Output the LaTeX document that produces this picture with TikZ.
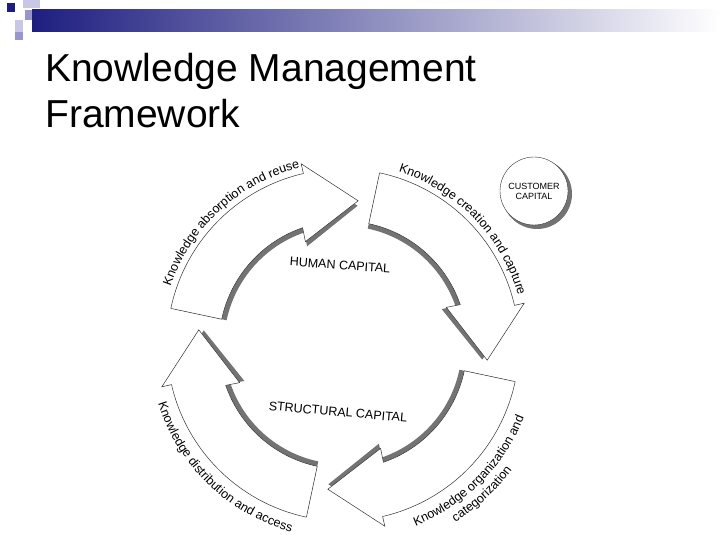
\documentclass[tikz,border=0pt]{standalone}
\usepackage{fontspec}
\setmainfont{Liberation Sans}
\usetikzlibrary{decorations.text}
\definecolor{navy}{RGB}{30,30,128}
\definecolor{lav}{RGB}{200,200,230}
\definecolor{lav2}{RGB}{150,150,205}
\tikzset{
  arrbody/.style={fill=white,draw=black!80,line width=0.5pt},
  arrshadow/.style={fill=black!55},
  arctext/.style={decorate,decoration={text along path,text align=center,text={#1}}},
}
\newcommand\myarrow[2]{% #1 = radius offset, #2 = style
  \path[#2] (168:176-#1) arc[start angle=168,end angle=103,radius=176-#1]
    -- (103:186-#1) -- (84:145-#1) -- (110:110-#1) -- (109:124-#1)
    arc[start angle=109,end angle=168,radius=124-#1] -- cycle;}
\begin{document}
\begin{tikzpicture}[x=1pt,y=1pt]
\useasboundingbox (0,-540) rectangle (720,0);
\fill[white] (0,-540) rectangle (720,0);
% banner
\shade[left color=navy,right color=white] (32,-10) rectangle (720,-32);
\fill[lav] (23,0) rectangle (40,-8);
\fill[lav2] (25,-10) rectangle (32,-20);
\fill[navy] (7,-3) rectangle (15,-12);
\fill[lav] (15,-20) rectangle (23,-32);
\fill[lav2] (15,-32) rectangle (23,-40);
% title
\node[anchor=base west,inner sep=0,font=\fontsize{39}{44}\selectfont] (t1) at (45,-82) {Knowledge Management};
\node[anchor=base west,inner sep=0,font=\fontsize{39}{44}\selectfont] (t2) at (45,-128) {Framework};
% arrows
\foreach \k in {0,1,2,3}{
  \begin{scope}[shift={(343,-345)},rotate=-90*\k]
    \myarrow{5}{arrshadow}
    \myarrow{0}{arrbody}
  \end{scope}}
% arc texts
\begin{scope}[shift={(343,-345)}]
\path[arctext={|\fontsize{12.5}{14}\selectfont|Knowledge absorption and reuse}]
  (165:182) arc[start angle=165,end angle=100,radius=182];
\path[arctext={|\fontsize{12.5}{14}\selectfont|Knowledge creation and capture}]
  (76:182) arc[start angle=76,end angle=12,radius=182];
\path[arctext={|\fontsize{12.5}{14}\selectfont|Knowledge organization and}]
  (-76:195) arc[start angle=-76,end angle=-14,radius=195];
\path[arctext={|\fontsize{12.5}{14}\selectfont|categorization}]
  (-64:210) arc[start angle=-64,end angle=-30,radius=210];
\path[arctext={|\fontsize{12.5}{14}\selectfont|Knowledge distribution and access}]
  (194:194) arc[start angle=194,end angle=258,radius=194];
\end{scope}
\node[font=\fontsize{12.5}{14}\selectfont,rotate=-4] (hc) at (340,-265) {HUMAN CAPITAL};
\node[font=\fontsize{12.5}{14}\selectfont,rotate=-5] (sc) at (338,-412) {STRUCTURAL CAPITAL};
% customer capital
\fill[black!55] (537,-194) circle (35);
\node[circle,draw=black!80,fill=white,minimum size=68,inner sep=0,align=center,
  font=\fontsize{9}{10}\selectfont] (cc) at (534,-191) {CUSTOMER\\CAPITAL};
\end{tikzpicture}
\end{document}
